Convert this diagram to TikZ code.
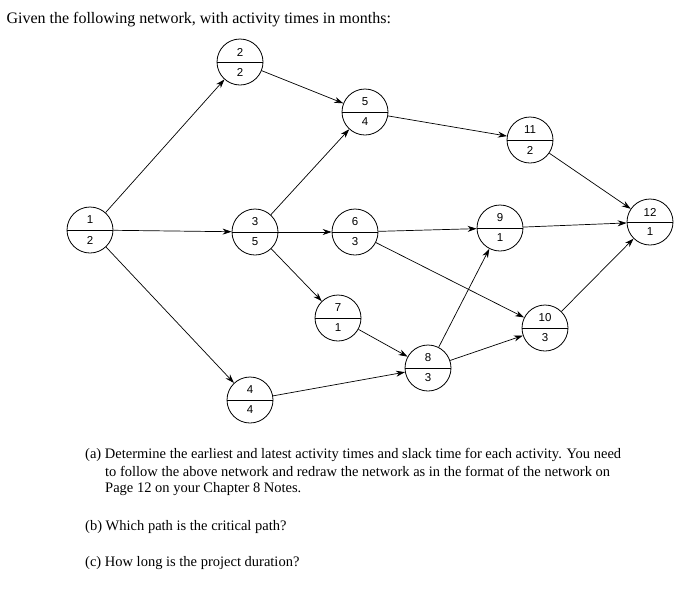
\documentclass[tikz,border=0pt]{standalone}
\usepackage{fontspec}
\setmainfont{Liberation Serif}
\setsansfont{Liberation Sans}
\usetikzlibrary{arrows.meta}
\begin{document}
\begin{tikzpicture}[x=1pt,y=-1pt,
  act/.style={draw,circle,minimum size=46pt,inner sep=0pt,line width=0.8pt},
  arr/.style={-{Stealth[length=9pt,width=6pt]},line width=0.7pt},
  num/.style={font=\sffamily\fontsize{11.5}{11.5}\selectfont},
  qtext/.style={font=\fontsize{14.5}{17}\selectfont,inner sep=0pt}]
\useasboundingbox (0,0) rectangle (700,595);
\fill[white] (0,0) rectangle (700,595);
\newcommand{\actnode}[4]{%
  \node[act] (#1) at (#2) {};
  \draw[line width=0.7pt] ([xshift=-23pt]#1.center) -- ([xshift=23pt]#1.center);
  \node[num] at ([yshift=10pt]#1.center) {#3};
  \node[num] at ([yshift=-10pt]#1.center) {#4};}
\actnode{n1}{90,230}{1}{2}
\actnode{n2}{240,62}{2}{2}
\actnode{n3}{255,232}{3}{5}
\actnode{n4}{250,400}{4}{4}
\actnode{n5}{365,112}{5}{4}
\actnode{n6}{355,232}{6}{3}
\actnode{n7}{338,318}{7}{1}
\actnode{n8}{428,368}{8}{3}
\actnode{n9}{500,228}{9}{1}
\actnode{n10}{545,328}{10}{3}
\actnode{n11}{530,140}{11}{2}
\actnode{n12}{650,222}{12}{1}
\foreach \a/\b in {n1/n2,n1/n3,n1/n4,n2/n5,n3/n5,n3/n6,n3/n7,n5/n11,n6/n9,n6/n10,n7/n8,n4/n8,n8/n9,n8/n10,n9/n12,n11/n12,n10/n12}
  \draw[arr] (\a) -- (\b);
\node[anchor=west,font=\fontsize{16}{18}\selectfont] (t) at (3,20) {Given the following network, with activity times in months:};
\node[qtext,anchor=west] (qa1) at (85,455) {(a) Determine the earliest and latest activity times and slack time for each activity. You need};
\node[qtext,anchor=west] (qa2) at (105,471) {to follow the above network and redraw the network as in the format of the network on};
\node[qtext,anchor=west] (qa3) at (105,489) {Page 12 on your Chapter 8 Notes.};
\node[qtext,anchor=west] (qb) at (85,527) {(b) Which path is the critical path?};
\node[qtext,anchor=west] (qc) at (85,563) {(c) How long is the project duration?};
\end{tikzpicture}
\end{document}
